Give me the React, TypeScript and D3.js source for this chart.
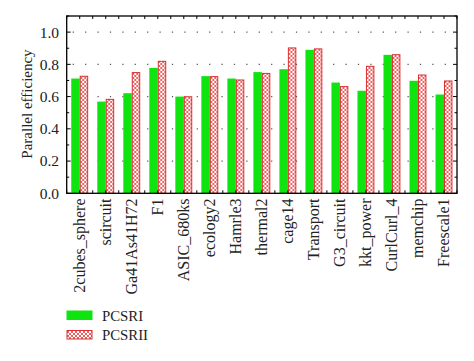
import React from "react";
import * as d3 from "d3";

const categories = ["2cubes_sphere","scircuit","Ga41As41H72","F1","ASIC_680ks","ecology2","Hamrle3","thermal2","cage14","Transport","G3_circuit","kkt_power","CurlCurl_4","memchip","Freescale1"];
const pcsri = [0.712,0.569,0.621,0.778,0.600,0.727,0.712,0.752,0.770,0.890,0.687,0.636,0.859,0.698,0.613];
const pcsrii = [0.729,0.586,0.752,0.822,0.602,0.727,0.706,0.747,0.905,0.899,0.665,0.791,0.863,0.737,0.700];
const seriesNames = ["PCSRI","PCSRII"];
const yTicks = [0, 0.2, 0.4, 0.6, 0.8, 1.0];

const W = 474, H = 361;
const L = 66.7, R = 457, T = 16, B = 193.3;
const FONT = "'Liberation Serif', 'Times New Roman', serif";
const GREEN = "#10e410";
const RED = "#d83030";

export default function App() {
  const x0 = d3.scaleBand<string>().domain(categories).range([L, R]).paddingInner(0.35).paddingOuter(0.175);
  const x1 = d3.scaleBand<string>().domain(seriesNames).range([0, x0.bandwidth()]).padding(0);
  const y = d3.scaleLinear().domain([0, 1.1]).range([B, T]);
  const step = x0.step();
  const minorY = d3.range(0, 1.1001, 0.1);
  const topTicks = d3.range(0, categories.length * 2 + 1).map(i => L + (i * step) / 2);

  return (
    <svg width={W} height={H} style={{ position: "absolute", left: 0, top: 0, background: "#fff" }}>
      <defs>
        <pattern id="hatch" patternUnits="userSpaceOnUse" width={4} height={4}>
          <rect width={4} height={4} fill="#fff" />
          <path d="M0,0 L4,4 M4,0 L0,4" stroke="#e85050" strokeWidth={0.9} />
        </pattern>
      </defs>
      {/* grid */}
      {yTicks.slice(1).map(t => (
        <line key={"g" + t} x1={L} x2={R} y1={y(t)} y2={y(t)} stroke="#555" strokeWidth={1.2} strokeDasharray="1.2,11.2" strokeDashoffset={-6} />
      ))}
      {/* bars */}
      {categories.map((c, i) => (
        <g key={c} transform={`translate(${x0(c)},0)`}>
          <rect x={x1("PCSRI")} y={y(pcsri[i])} width={x1.bandwidth()} height={B - y(pcsri[i])} fill={GREEN} />
          <rect x={(x1("PCSRII") as number) + 0.5} y={y(pcsrii[i]) + 0.5} width={x1.bandwidth() - 1} height={B - y(pcsrii[i]) - 0.5} fill="url(#hatch)" stroke={RED} strokeWidth={1} />
        </g>
      ))}
      {/* frame */}
      <rect x={L} y={T} width={R - L} height={B - T} fill="none" stroke="#000" strokeWidth={1.3} />
      {/* y ticks */}
      {minorY.map((t, i) => {
        const len = i % 2 === 0 ? 4 : 2.5;
        return (
          <g key={"yt" + i}>
            <line x1={L} x2={L + len} y1={y(t)} y2={y(t)} stroke="#000" strokeWidth={1} />
            <line x1={R} x2={R - len} y1={y(t)} y2={y(t)} stroke="#000" strokeWidth={1} />
          </g>
        );
      })}
      {/* top/bottom ticks */}
      {topTicks.map((tx, i) => (
        <g key={"xt" + i}>
          <line x1={tx} x2={tx} y1={T} y2={T + 3} stroke="#000" strokeWidth={1} />
          <line x1={tx} x2={tx} y1={B} y2={B - 3} stroke="#000" strokeWidth={1} />
        </g>
      ))}
      {/* y tick labels */}
      {yTicks.map(t => (
        <text key={"yl" + t} x={59} y={y(t)} dy="0.35em" textAnchor="end" fontFamily={FONT} fontSize={15.5} fill="#222">
          {t.toFixed(1)}
        </text>
      ))}
      <text transform={`translate(32,104) rotate(-90)`} textAnchor="middle" fontFamily={FONT} fontSize={15} fill="#222">
        Parallel efficiency
      </text>
      {/* x labels */}
      {categories.map(c => {
        const cx = (x0(c) as number) + x0.bandwidth() / 2;
        return (
          <text key={"xl" + c} transform={`translate(${cx + 5.5},198.5) rotate(-90)`} textAnchor="end" fontFamily={FONT} fontSize={16} fill="#222">
            {c}
          </text>
        );
      })}
      {/* legend */}
      <rect x={66.5} y={310.5} width={26} height={9.5} fill={GREEN} />
      <text x={102} y={320.5} fontFamily={FONT} fontSize={14.8} fill="#222">PCSRI</text>
      <rect x={67} y={330.5} width={25} height={8.5} fill="url(#hatch)" stroke={RED} strokeWidth={1} />
      <text x={102} y={340} fontFamily={FONT} fontSize={14.8} fill="#222">PCSRII</text>
    </svg>
  );
}
